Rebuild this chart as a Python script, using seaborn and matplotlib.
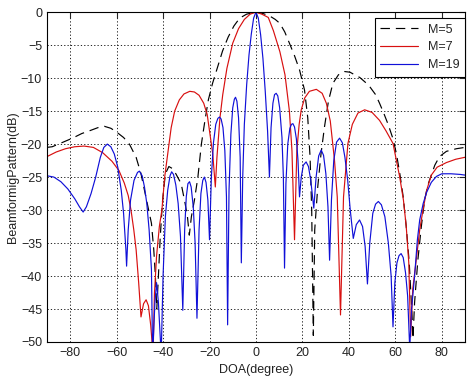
import numpy as np
import pandas as pd
import matplotlib
matplotlib.use("Agg")
import matplotlib.pyplot as plt
import seaborn as sns

# ----------------------------------------------------------------------
# Data (DOA in degrees, pattern in dB)
# ----------------------------------------------------------------------
m5_doa = [-90, -87.7, -83, -79, -75, -71.8, -68, -65.3, -62.5, -60.3, -57, -54.5,
          -51.6, -49.5, -48, -46.5, -45, -44, -43.3, -42.7, -42, -41.2, -40.2, -39,
          -37.5, -36, -34.5, -32.2, -30.5, -29.5, -28.7, -27.8, -26.5, -25, -23.5,
          -22, -20.5, -18.7, -16.5, -14.4, -12, -9.5, -7, -4, 0, 3, 6, 8.3, 10.3,
          12.4, 14.4, 16.6, 18.8, 20.9, 22.3, 23.3, 24, 24.7, 25.3, 26.6, 28, 29.5,
          31.2, 33.1, 35.5, 38.1, 40.5, 43, 44.7, 47, 49, 51.5, 53.2, 55, 57, 59,
          60.5, 61.9, 63.4, 64.7, 66, 67.2, 67.6, 68.3, 69.7, 71.2, 72.6, 74, 75.5,
          77, 79, 82, 86.3, 90]
m5_db = [-20.5, -20.4, -19.7, -19.1, -18.4, -18, -17.5, -17.3, -17.6, -18.1, -19, -20,
         -22, -24.5, -27, -29.5, -32, -36, -40, -45, -40, -34, -28.5, -24.5,
         -23.4, -23.7, -24.5, -26, -29, -31, -33.8, -31, -28.5, -25, -20,
         -16.5, -13.3, -10.8, -8.3, -5.9, -3.8, -2.1, -0.9, -0.3, 0, -0.2, -0.6, -1.1, -1.7,
         -3, -4.7, -6.6, -8.8, -11.8, -16, -22, -30, -49, -33, -26.5, -21.5, -17.4,
         -13.5, -10.8, -9.5, -9, -9.1, -9.6, -9.9, -10.6, -11.3, -12.5, -13.8, -15.3, -17.1, -19.2,
         -21.5, -24.4, -28, -32.5, -38, -46, -49.5, -44, -37.6, -32.5, -28.5, -26.2, -24.7,
         -23.2, -21.9, -21.1, -20.7, -20.5]

m7_doa = [-90, -86, -82, -78, -74, -70, -66, -62, -59, -56.7, -55, -53.8, -52.6, -51.6,
          -50.5, -49.5, -48.4, -47.3, -46.3, -45.3, -44.3, -43.7, -42.8, -41.6, -40.5,
          -39.3, -38, -36.5, -35, -33, -31, -28.5, -26.5, -24.5, -22.5, -21, -19.8,
          -18.6, -17.5, -16.8, -15.5, -14.3, -12.5, -10, -7.5, -5, -2.5, 0, 2.5, 5.3,
          7.5, 10.3, 12.5, 14.4, 15.5, 16.6, 17.6, 18.6, 19.5, 21, 23, 26, 28.5, 30.3,
          32, 33.8, 35, 36.4, 37.7, 39.6, 41.5, 43.9, 46.8, 50, 53.2, 56, 59, 61.9,
          63.5, 64.7, 65.8, 66.6, 67.5, 69, 70.5, 71.9, 73.5, 75.5, 78, 82, 86, 90]
m7_db = [-21.9, -21.2, -20.7, -20.4, -20.3, -20.5, -21.3, -22.6, -24, -25.9, -27.8, -30, -33, -36,
         -41, -46.2, -44.2, -43.6, -44.5, -47.5, -52, -42.6, -37, -32.5, -30,
         -25, -21.5, -17.5, -15, -13.3, -12.4, -12, -12.1, -12.6, -13.8, -15.5, -18.5,
         -21.5, -26.5, -22, -16, -12.5, -8.5, -4.7, -2.5, -1.1, -0.3, 0, -0.3, -0.8,
         -2.8, -6, -9.5, -15, -21, -34.5, -21, -17, -14.8, -13, -12, -11.7, -12.3, -13.8,
         -16.5, -22.4, -28, -45.9, -28, -19.9, -17, -15.3, -14.8, -15.2, -16.4, -18, -19.9, -25,
         -28.5, -32.5, -38, -49.2, -42, -37.6, -33, -30, -27, -24.7, -23.5, -22.8, -22.3, -22]

m19_doa = [-90, -87, -84, -81, -78, -76, -74.4, -73, -71, -69, -67, -65.5, -64, -62.5,
           -61, -59.5, -58, -57, -56, -55.7, -55, -54, -52.5, -51, -50.2, -49, -48, -47,
           -46, -45, -44.5, -43.5, -42.8, -42, -40.8, -40, -39, -38, -37, -36.3, -35.5,
           -34.5, -33.5, -32.5, -31.5, -30.7, -30, -29.3, -28.6, -27.9, -27, -26.2,
           -25.4, -24.5, -23.7, -22.9, -22.2, -21.5, -20.7, -20, -19.2, -18.3, -17.3,
           -16.4, -15.7, -15, -14.2, -13.4, -12.7, -12.2, -11.6, -10.8, -10, -9.3, -8.8,
           -8.2, -7.5, -6.8, -6.3, -5.7, -5, -4, -3, -2, -1, 0, 1, 2, 3, 4, 5, 5.8,
           6.5, 7.3, 8, 8.7, 9.4, 10.2, 11.2, 11.8, 12.3, 12.9, 13.7, 14.6, 15.3, 15.9,
           16.6, 17.4, 18.1, 18.75, 19.5, 20.4, 21.6, 22.6, 23.6, 24.9, 25.9, 27, 28.1,
           29.1, 30.1, 31, 31.7, 32.5, 33.5, 34.7, 36, 37.2, 38.3, 39.5, 40.6, 41.9,
           43.2, 44.6, 45.9, 47, 48, 49, 50.3, 51.5, 52.7, 54, 55.5, 57, 58.2, 59, 59.8,
           60.7, 61.6, 62.5, 63.4, 64.4, 65.3, 66.2, 67, 68.3, 69.5, 70.5, 72, 73.5,
           75.5, 77.7, 80, 84, 88, 90]
m19_db = [-24.8, -25, -25.7, -26.8, -28.3, -29.5, -30.3, -29.5, -27.5, -25, -22, -20.5, -20, -20.4,
          -21.5, -23.5, -27, -30.5, -36, -38.5, -33, -28.5, -25.5, -24.3, -24.1, -24.8, -26.5, -29,
          -33, -39, -52, -44, -41, -44, -52, -40, -31, -27, -24.8, -24.2, -24.6,
          -26.2, -29, -34, -45.2, -33, -28, -26, -25.7, -26.5, -29.5, -35,
          -46.4, -33, -27.5, -25.5, -25, -25.8, -28.5, -34.5, -25, -19.8, -17,
          -16.1, -15.9, -16.2, -17.5, -21, -28, -47.4, -27, -18.5, -14.5, -13.2, -12.9,
          -13.5, -16, -22, -38, -25, -17, -11, -6.5, -3.3, -0.9, 0, -0.9, -3.4, -7, -12, -18, -25,
          -17.5, -13.8, -12.5, -12.3, -12.7, -14.5, -19, -25, -38.8, -26, -20, -17.6, -17, -16.9,
          -17.4, -19.2, -22.5, -28, -25, -23.2, -22.7, -23.4, -25.5, -29.7, -25, -21.8, -20.9,
          -21.7, -24.5, -29.5, -37.6, -28.5, -22.5, -19.7, -19.1, -19.8, -22, -25.5, -30, -34.3,
          -32.2, -31.5, -32.5, -35.5, -41.2, -35, -30.5, -29.1, -28.7, -29.2, -31, -35, -40, -47.7, -41,
          -38, -36.9, -36.6, -37.2, -39.5, -43, -51, -45, -40, -34.5, -31.5, -29, -27.3,
          -25.8, -24.9, -24.5, -24.5, -24.6, -24.7]

series = {"M=5": (m5_doa, m5_db), "M=7": (m7_doa, m7_db), "M=19": (m19_doa, m19_db)}
df = pd.concat([pd.DataFrame({"DOA": d, "dB": v, "M": name}) for name, (d, v) in series.items()],
               ignore_index=True)

sns.set_style("white")
plt.rcParams["font.family"] = ["Liberation Sans", "DejaVu Sans"]

fig, ax = plt.subplots(figsize=(4.74, 3.8), dpi=100)
fig.subplots_adjust(left=0.099, right=0.981, bottom=0.1, top=0.968)

palette = {"M=5": "black", "M=7": "#d81010", "M=19": "#1010d8"}
sns.lineplot(data=df, x="DOA", y="dB", hue="M", style="M", palette=palette,
             dashes={"M=5": (8, 5), "M=7": "", "M=19": ""}, sort=False,
             estimator=None, linewidth=0.85, ax=ax)

ax.set_xlim(-90, 90)
ax.set_ylim(-50, 0)
ax.set_xticks(range(-80, 81, 20))
ax.set_yticks(range(-50, 1, 5))
ax.grid(True, color="black", linestyle=(0, (1.5, 2.5)), linewidth=0.6)
ax.tick_params(direction="in", labelsize=9, length=4, top=True, right=True,
               labeltop=False, labelright=False, labelcolor="#222222")
for s in ax.spines.values():
    s.set_color("black")
    s.set_linewidth(0.8)
ax.set_xlabel("DOA(degree)", fontsize=9, labelpad=4, color="#222222")
ax.set_ylabel("BeamformigPattern(dB)", fontsize=9, labelpad=1, color="#222222")

leg = ax.legend(loc="upper right", bbox_to_anchor=(1.0, 0.982), borderaxespad=0,
                fontsize=9, frameon=True, fancybox=False, edgecolor="black",
                framealpha=1, handlelength=3.0, labelspacing=0.45, borderpad=0.45)
leg.get_frame().set_linewidth(0.8)

plt.savefig("out.png", dpi=100)
